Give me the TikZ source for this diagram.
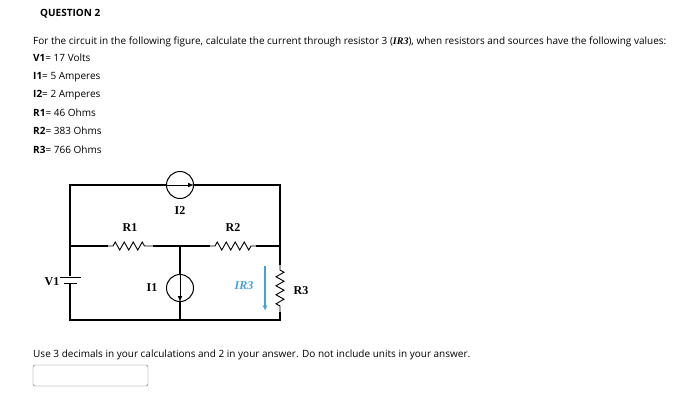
\documentclass[tikz,border=0pt]{standalone}
\usepackage{fontspec}
\setmainfont{Open Sans}
\newfontfamily\serif{Liberation Serif}
\usetikzlibrary{decorations.pathmorphing}
\definecolor{irblue}{RGB}{70,160,220}
\begin{document}
\begin{tikzpicture}[x=1pt,y=-1pt,
  txt/.style={anchor=west,inner sep=0pt,font=\fontsize{10}{12}\selectfont},
  lbl/.style={inner sep=0pt,font=\serif\bfseries\fontsize{12}{14}\selectfont},
  wire/.style={line width=1.3pt},
  res/.style={line width=0.9pt,decorate,decoration={zigzag,amplitude=4pt,segment length=9pt,pre length=5pt,post length=5pt}},
  src/.style={circle,draw,line width=1pt,minimum size=27pt,inner sep=0pt,fill=white}]
\useasboundingbox (0,0) rectangle (698,408);
% text
\node[txt,font=\bfseries\fontsize{10}{12}\selectfont] (q) at (40,14) {QUESTION 2};
\node[txt] (intro) at (33,42) {For the circuit in the following figure, calculate the current through resistor 3 ({\serif\bfseries\itshape IR3}), when resistors and sources have the following values:};
\node[txt] (v1) at (33,58) {\textbf{V1}= 17 Volts};
\node[txt] (i1) at (33,77) {\textbf{I1}= 5 Amperes};
\node[txt] (i2) at (33,95) {\textbf{I2}= 2 Amperes};
\node[txt] (r1) at (33,113) {\textbf{R1}= 46 Ohms};
\node[txt] (r2) at (33,131) {\textbf{R2}= 383 Ohms};
\node[txt] (r3) at (33,150) {\textbf{R3}= 766 Ohms};
\node[txt] (use) at (33,355) {Use 3 decimals in your calculations and 2 in your answer. Do not include units in your answer.};
\draw[gray!80!black,rounded corners=2pt] (33,365) rectangle (148,386);
% circuit coordinates
\coordinate (tl) at (70,185); \coordinate (tr) at (280,185);
\coordinate (ml) at (70,246); \coordinate (mm) at (180,246); \coordinate (mr) at (280,246);
\coordinate (bl) at (70,320); \coordinate (bm) at (180,320); \coordinate (br) at (280,320);
% wires
\draw[wire] (ml) -- (tl) -- (tr) -- (mr);
\draw[wire] (ml) -- (108,246);
\draw[wire] (153,246) -- (mm) -- (210,246);
\draw[wire] (256,246) -- (mr) -- (280,265);
\draw[wire] (280,312) -- (br) -- (bl) -- (70,286);
\draw[wire] (ml) -- (70,276);
\draw[wire] (mm) -- (bm);
% resistors
\draw[res] (108,246) -- (153,246);
\draw[res] (210,246) -- (256,246);
\draw[res] (280,265) -- (280,312);
% battery
\draw[line width=1pt] (60,277) -- (81,277);
\draw[line width=1pt] (64,283) -- (77,283);
\draw[wire] (70,283) -- (70,287);
% sources
\node[src] (s2) at (180,185) {};
\draw[-latex,line width=1pt] (s2.west) -- (s2.east);
\node[src] (s1) at (180,288) {};
\draw[-latex,line width=1pt] (s1.north) -- (s1.south);
% current arrow
\draw[irblue,line width=1.2pt,-stealth] (265,266) -- (265,310);
% labels
\node[lbl] (li2) at (180,211) {I2};
\node[lbl] (lr1) at (130,228) {R1};
\node[lbl] (lr2) at (233,228) {R2};
\node[lbl] (lv1) at (52,282) {V1};
\node[lbl] (li1) at (152,288) {I1};
\node[lbl,irblue,font=\serif\bfseries\itshape\fontsize{12}{14}\selectfont] (lir) at (244,286) {IR3};
\node[lbl] (lr3) at (301,291) {R3};
\end{tikzpicture}
\end{document}
